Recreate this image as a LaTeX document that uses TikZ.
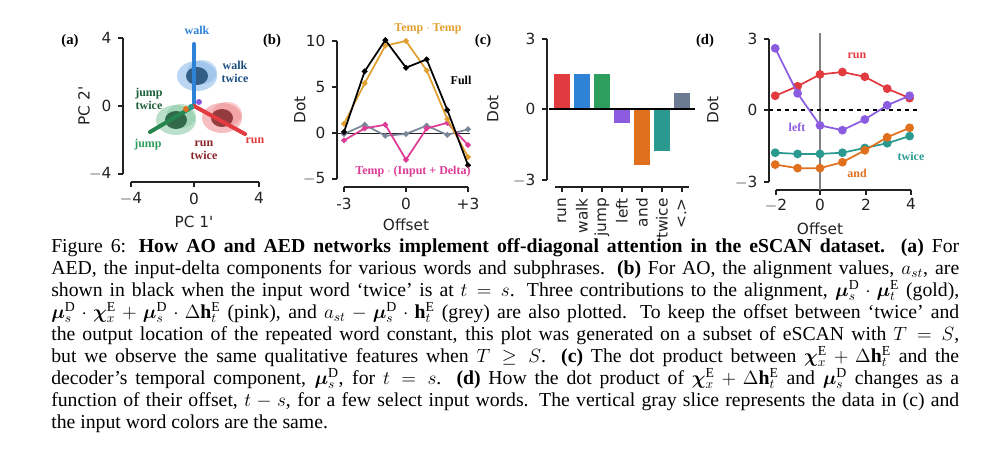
\documentclass[tikz,border=0pt]{standalone}
\usepackage{amsmath,amssymb,bm}
\usepackage{fontspec}
\setmainfont{Liberation Serif}
\newfontfamily\tickfont{DejaVu Sans}
\usetikzlibrary{positioning}
\definecolor{cRun}{HTML}{E23B3F}
\definecolor{cWalk}{HTML}{2F83D6}
\definecolor{cJump}{HTML}{2E9E5E}
\definecolor{cLeft}{HTML}{8B5BE0}
\definecolor{cAnd}{HTML}{E0701E}
\definecolor{cTwice}{HTML}{2A9A90}
\definecolor{cEos}{HTML}{6C7A92}
\definecolor{cGold}{HTML}{E0A030}
\definecolor{cPink}{HTML}{DD3A95}
\definecolor{cGrey}{HTML}{7A8798}
\definecolor{cAxis}{HTML}{222222}
\begin{document}
\begin{tikzpicture}[x=0.75pt,y=-0.75pt,
    tick/.style={font=\tickfont\fontsize{11.5}{13}\selectfont,text=cAxis},
    word/.style={font=\bfseries\fontsize{9}{9.5}\selectfont},
    panel/.style={font=\bfseries\fontsize{11}{12}\selectfont},
    axline/.style={draw=cAxis,line width=0.9pt},
    dotline/.style={line width=1.3pt},
    bar/.style={draw=none}]
\useasboundingbox (0,0) rectangle (982,475);

% (a) input-delta components
\node[panel] (la) at (70,41) {(a)};
\draw[axline] (123,38) -- (123,174);
\draw[axline] (131,182) -- (259,182);
\foreach \yy/\tt in {38/4,106/0,174/{$-$4}} {
  \draw[axline] (123,\yy) -- (118,\yy);
  \node[tick,anchor=east] at (116,\yy) {\tt};}
\foreach \xx/\tt in {131/{$-$4},194/0,259/4} {
  \draw[axline] (\xx,182) -- (\xx,187);
  \node[tick,anchor=north] at (\xx,188) {\tt};}
\node[tick] (xa) at (194,222) {PC 1'};
\node[tick,rotate=90] (ya) at (84,106) {PC 2'};
% blobs
\foreach \cc/\bx/\by/\dd in {cWalk/197/76/cWalk!50!black, cJump/176/120/cJump!50!black, cRun/222/118/cRun!55!black} {
  \fill[\cc!60,opacity=0.55] (\bx,\by) ellipse (20 and 15);
  \fill[\cc!60,opacity=0.45] (\bx+5,\by-4) ellipse (15 and 12);
  \fill[\dd,opacity=0.8] (\bx,\by) ellipse (11 and 9);}
\coordinate (o) at (194,106);
\draw[cWalk,line width=3pt,line cap=round] (o) -- (194,44);
\draw[cJump!85!black,line width=3pt,line cap=round] (o) -- (150,132);
\draw[cRun,line width=3pt,line cap=round] (o) -- (245,134);
\fill[cLeft] (199,102) circle (3);
\fill[cAnd] (186,109) circle (3);
\fill[cTwice] (191,107) circle (3);
\node[word,text=cWalk] (w) at (197,30) {walk};
\node[word,text=cWalk!60!black,align=center] (wt) at (235,72) {walk\\twice};
\node[word,text=cJump!60!black,align=center] (jt) at (149,99) {jump\\twice};
\node[word,text=cJump] (j) at (148,145) {jump};
\node[word,text=cRun] (r) at (255,141) {run};
\node[word,text=cRun!60!black,align=center] (rt) at (204,150) {run\\twice};

% (b) alignment contributions
\node[panel] (lb) at (272,41) {(b)};
\draw[axline] (337,41) -- (337,179);
\draw[axline] (344,187) -- (468,187);
\foreach \yy/\tt in {41/10,87/5,133/0,179/{$-$5}} {
  \draw[axline] (337,\yy) -- (332,\yy);
  \node[tick,anchor=east] at (330,\yy) {\tt};}
\foreach \xx/\tt in {344/-3,406/0,468/+3} {
  \draw[axline] (\xx,187) -- (\xx,192);
  \node[tick,anchor=north] at (\xx,193) {\tt};}
\node[tick] (xb) at (406,225) {Offset};
\node[tick,rotate=90] (yb) at (300,110) {Dot};
\draw[cAxis,line width=0.5pt] (337,133) -- (470,133);
\begin{scope}[shift={(406,133)},x=15.5pt,y=6.9pt]
  \draw[cGrey,dotline] plot[mark=*,mark size=1.4pt] coordinates {(-3,-0.1)(-2,0.9)(-1,-0.3)(0,-0.1)(1,0.8)(2,-0.2)(3,0.4)};
  \draw[cPink,dotline] plot[mark=*,mark size=1.4pt] coordinates {(-3,-0.8)(-2,0.5)(-1,0.9)(0,-2.9)(1,0.5)(2,1.1)(3,-1.3)};
  \draw[cGold,dotline] plot[mark=*,mark size=1.4pt] coordinates {(-3,1.0)(-2,5.4)(-1,9.5)(0,10.0)(1,6.8)(2,1.5)(3,-2.6)};
  \draw[black,dotline] plot[mark=*,mark size=1.4pt] coordinates {(-3,0.1)(-2,6.7)(-1,10.1)(0,7.1)(1,8.0)(2,2.5)(3,-3.5)};
\end{scope}
\node[word,text=cGold] (tt) at (428,29) {Temp $\cdot$ Temp};
\node[word] (fu) at (461,80) {Full};
\node[word,text=cPink] (ti) at (413,172) {Temp $\cdot$ (Input + Delta)};

% (c) dot with decoder temporal component
\node[panel] (lc) at (483,41) {(c)};
\draw[axline] (547,39) -- (547,180);
\draw[axline] (555,187) -- (689,187);
\foreach \yy/\tt in {39/3,109/0,180/{$-$3}} {
  \draw[axline] (547,\yy) -- (542,\yy);
  \node[tick,anchor=east] at (540,\yy) {\tt};}
\node[tick,rotate=90] (yc) at (493,109) {Dot};
\begin{scope}[shift={(562,109)},x=15pt,y=17.6pt]
  \foreach \i/\v/\cc/\ww in {0/1.5/cRun/run,1/1.5/cWalk/walk,2/1.5/cJump/jump,3/-0.6/cLeft/left,4/-2.4/cAnd/and,5/-1.8/cTwice/twice,6/0.7/cEos/{<.>}} {
    \fill[\cc,bar] (\i-0.4,0) rectangle (\i+0.4,\v);
    \draw[axline] (\i,-3.33) -- (\i,-3.55);
    \node[tick,rotate=90,anchor=east] at (\i,-3.6) {\ww};}
  \draw[black,line width=1.5pt] (-0.65,0) -- (6.65,0);
\end{scope}

% (d) dot product versus offset
\node[panel] (ld) at (705,41) {(d)};
\draw[axline] (769,39) -- (769,182);
\draw[axline] (776,190) -- (911,190);
\foreach \yy/\tt in {39/3,110/0,182/{$-$3}} {
  \draw[axline] (769,\yy) -- (764,\yy);
  \node[tick,anchor=east] at (762,\yy) {\tt};}
\foreach \xx/\tt in {776/{$-$2},820/0,866/2,911/4} {
  \draw[axline] (\xx,190) -- (\xx,195);
  \node[tick,anchor=north] at (\xx,194) {\tt};}
\node[tick] (xd) at (820,229) {Offset};
\node[tick,rotate=90] (yd) at (713,110) {Dot};
\draw[gray,line width=1.6pt] (820,33) -- (820,190);
\draw[black,line width=1.3pt,dashed] (769,110) -- (918,110);
\begin{scope}[shift={(820,110)},x=16.8pt,y=17.8pt]
  \foreach \cc/\data in {cRun/{(-2,0.6)(-1,1.0)(0,1.5)(1,1.6)(2,1.4)(3,0.9)(4,0.5)},
                         cTwice/{(-2,-1.8)(-1,-1.85)(0,-1.85)(1,-1.8)(2,-1.6)(3,-1.4)(4,-1.1)},
                         cAnd/{(-2,-2.3)(-1,-2.45)(0,-2.45)(1,-2.2)(2,-1.7)(3,-1.15)(4,-0.75)},
                         cLeft/{(-2,2.6)(-1,0.7)(0,-0.65)(1,-0.85)(2,-0.4)(3,0.2)(4,0.6)}}
    \draw[\cc,dotline] plot[mark=*,mark size=2.6pt] coordinates {\data};
\end{scope}
\node[word,text=cRun] (dr) at (857,56) {run};
\node[word,text=cLeft] (dl) at (797,127) {left};
\node[word,text=cTwice] (dt) at (911,156) {twice};
\node[word,text=cAnd] (da) at (857,173) {and};

% caption
\node[anchor=north west,text width=681pt,align=justify,inner sep=0pt,
  font=\fontsize{14.8}{16.5}\selectfont] (cap) at (51,238) {Figure 6: \textbf{How AO and AED networks implement off-diagonal attention in the eSCAN dataset. (a)} For\linebreak AED, the input-delta components for various words and subphrases. \textbf{(b)} For AO, the alignment values, $a_{st}$, are\linebreak shown in black when the input word `twice' is at $t = s$. Three contributions to the alignment, $\bm{\mu}_s^{\mathrm{D}} \cdot \bm{\mu}_t^{\mathrm{E}}$ (gold),\linebreak $\bm{\mu}_s^{\mathrm{D}} \cdot \bm{\chi}_x^{\mathrm{E}} + \bm{\mu}_s^{\mathrm{D}} \cdot \Delta\mathbf{h}_t^{\mathrm{E}}$ (pink), and $a_{st} - \bm{\mu}_s^{\mathrm{D}} \cdot \mathbf{h}_t^{\mathrm{E}}$ (grey) are also plotted. To keep the offset between `twice' and\linebreak the output location of the repeated word constant, this plot was generated on a subset of eSCAN with $T = S$,\linebreak but we observe the same qualitative features when $T \geq S$. \textbf{(c)} The dot product between $\bm{\chi}_x^{\mathrm{E}} + \Delta\mathbf{h}_t^{\mathrm{E}}$ and the\linebreak decoder's temporal component, $\bm{\mu}_s^{\mathrm{D}}$, for $t = s$. \textbf{(d)} How the dot product of $\bm{\chi}_x^{\mathrm{E}} + \Delta\mathbf{h}_t^{\mathrm{E}}$ and $\bm{\mu}_s^{\mathrm{D}}$ changes as a\linebreak function of their offset, $t - s$, for a few select input words. The vertical gray slice represents the data in (c) and\linebreak the input word colors are the same.};
\end{tikzpicture}
\end{document}
